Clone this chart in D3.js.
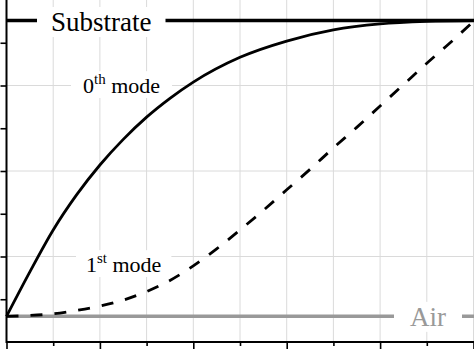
<!DOCTYPE html>
<html>
<head>
<meta charset="utf-8">
<script src="https://cdn.jsdelivr.net/npm/d3@7"></script>
<style>
  body { margin: 0; background: #fff; }
  svg { display: block; }
</style>
</head>
<body>
<svg id="chart" width="474" height="349"></svg>
<script>
// mode profiles (x: 0..10 grid units, y: 0..4 grid units)
var modeX0 = [0, 0.5, 1, 1.5, 2, 2.5, 3, 3.5, 4, 5, 6, 7, 8, 9, 10];
var modeY0 = [0.30, 0.82, 1.31, 1.72, 2.07, 2.37, 2.63, 2.85, 3.04, 3.33, 3.52, 3.65, 3.72, 3.75, 3.76];

var modeX1 = [0, 0.5, 1, 1.5, 2, 2.5, 3, 3.5, 4, 4.5, 5, 5.5, 6, 6.5, 7, 7.5, 8, 8.5, 9, 9.5, 10];
var modeY1 = [0.30, 0.31, 0.33, 0.37, 0.42, 0.49, 0.59, 0.72, 0.89, 1.09, 1.31, 1.54, 1.78, 2.02, 2.27, 2.51, 2.76, 3.01, 3.26, 3.50, 3.75];

var substrateLevel = 3.76;
var airLevel = 0.30;

var xGrid = [1, 2, 3, 4, 5, 6, 7, 8, 9, 10];
var yGrid = [1, 2, 3];
var xMajorTicks = [0, 2, 4, 6, 8, 10];
var xMinorTicks = [1, 3, 5, 7, 9];
var yTicks = [0.5, 1, 1.5, 2, 2.5, 3, 3.5];

var svg = d3.select('#chart');
var x = d3.scaleLinear().domain([0, 10]).range([6.5, 473.5]);
var y = d3.scaleLinear().domain([0, 4]).range([342, 0]);

function zip(xs, ys) {
  return xs.map(function(v, i) { return {x: v, y: ys[i]}; });
}

// grid
svg.append('g').selectAll('line').data(xGrid).enter().append('line')
  .attr('x1', function(d) { return x(d); }).attr('x2', function(d) { return x(d); })
  .attr('y1', y(4)).attr('y2', y(0))
  .attr('stroke', '#dadada').attr('stroke-width', 1);
svg.append('g').selectAll('line').data(yGrid).enter().append('line')
  .attr('x1', x(0)).attr('x2', x(10))
  .attr('y1', function(d) { return y(d); }).attr('y2', function(d) { return y(d); })
  .attr('stroke', '#dadada').attr('stroke-width', 1);

var boxLayer = svg.append('g');
var lineLayer = svg.append('g');
var coverLayer = svg.append('g');
var textLayer = svg.append('g');

// substrate and air levels
lineLayer.append('line')
  .attr('x1', x(0)).attr('x2', x(10) + 1)
  .attr('y1', y(substrateLevel)).attr('y2', y(substrateLevel))
  .attr('stroke', '#000').attr('stroke-width', 3.5);
lineLayer.append('line')
  .attr('x1', x(0)).attr('x2', x(10) + 1)
  .attr('y1', y(airLevel)).attr('y2', y(airLevel))
  .attr('stroke', '#999').attr('stroke-width', 3.5);

var line = d3.line()
  .x(function(d) { return x(d.x); })
  .y(function(d) { return y(d.y); })
  .curve(d3.curveMonotoneX);

lineLayer.append('path').datum(zip(modeX0, modeY0))
  .attr('d', line).attr('fill', 'none')
  .attr('stroke', '#000').attr('stroke-width', 2.8);
lineLayer.append('path').datum(zip(modeX1, modeY1))
  .attr('d', line).attr('fill', 'none')
  .attr('stroke', '#000').attr('stroke-width', 2.8)
  .attr('stroke-dasharray', '12,12');

// labels with white backing
function label(layer, cx, cy, parts, size, color, padX) {
  var t = textLayer.append('text')
    .attr('x', cx).attr('y', cy)
    .style('font-family', 'Liberation Serif')
    .attr('fill', color).style('font-size', size + 'px');
  parts.forEach(function(p) {
    var s = t.append('tspan').text(p.text);
    if (p.sup) s.style('font-size', (size * 0.68) + 'px').attr('dy', -size * 0.4);
    if (p.down) s.attr('dy', size * 0.4);
  });
  var b = t.node().getBBox();
  layer.append('rect')
    .attr('x', b.x - padX).attr('y', b.y)
    .attr('width', b.width + 2 * padX).attr('height', b.height)
    .attr('fill', '#fff');
}

label(coverLayer, 51, y(substrateLevel) + 10.5, [{text: 'Substrate'}], 27, '#000', 14);
label(coverLayer, 410, y(airLevel) + 9.5, [{text: 'Air'}], 27, '#999', 16);
label(boxLayer, 83, 93, [{text: '0'}, {text: 'th', sup: true}, {text: ' mode', down: true}], 22, '#000', 12);
label(boxLayer, 86, 272, [{text: '1'}, {text: 'st', sup: true}, {text: ' mode', down: true}], 22, '#000', 10);

// axes
var gx = svg.append('g').attr('transform', 'translate(0,' + y(0) + ')');
gx.call(d3.axisBottom(x).tickValues(xMajorTicks).tickSize(7).tickSizeOuter(0).tickFormat(''));
gx.append('g').call(d3.axisBottom(x).tickValues(xMinorTicks).tickSize(4).tickSizeOuter(0).tickFormat(''))
  .select('.domain').remove();
gx.select('.domain').attr('stroke-width', 2).attr('d', 'M' + x(0) + ',0H' + (x(10) + 1));
gx.selectAll('.tick line').attr('stroke-width', 1.6);

var gy = svg.append('g').attr('transform', 'translate(' + x(0) + ',0)');
gy.call(d3.axisLeft(y).tickValues(yTicks).tickSize(6).tickSizeOuter(0).tickFormat(''));
gy.select('.domain').attr('stroke-width', 2).attr('d', 'M0,' + y(4) + 'V' + (y(0) + 1));
gy.selectAll('.tick line').attr('stroke-width', 1.6);
</script>
</body>
</html>
